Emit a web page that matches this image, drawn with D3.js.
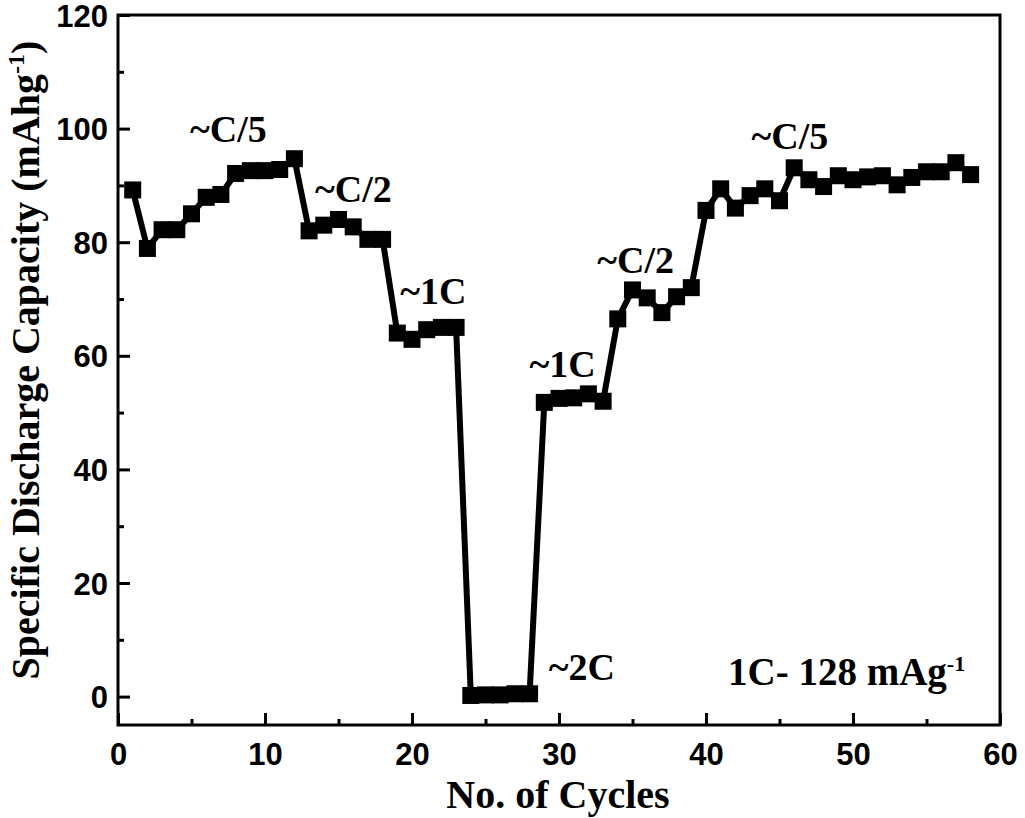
<!DOCTYPE html>
<html>
<head>
<meta charset="utf-8">
<script src="https://cdn.jsdelivr.net/npm/d3@7"></script>
<style>
  body { margin: 0; background: #fff; }
</style>
</head>
<body>
<div id="chart"></div>
<script>
// Données
const cycles = [1, 2, 3, 4, 5, 6, 7, 8, 9, 10, 11, 12, 13, 14, 15, 16, 17, 18, 19, 20,
  21, 22, 23, 24, 25, 26, 27, 28, 29, 30, 31, 32, 33, 34, 35, 36, 37, 38, 39, 40,
  41, 42, 43, 44, 45, 46, 47, 48, 49, 50, 51, 52, 53, 54, 55, 56, 57, 58];
const capacity = [89.2, 78.9, 82.2, 82.2, 85.0, 87.9, 88.4, 92.1, 92.6, 92.6, 92.8, 94.7,
  82.0, 83.0, 84.0, 82.7, 80.5, 80.5, 64.0, 62.9, 64.6, 65.0, 65.0,
  0.2, 0.3, 0.3, 0.5, 0.5,
  51.8, 52.5, 52.6, 53.3, 52.0,
  66.5, 71.6, 70.2, 67.6, 70.4, 72.0,
  85.6, 89.4, 86.0, 88.2, 89.4, 87.3, 93.1, 91.0, 89.8, 91.7, 91.0, 91.5, 91.7,
  90.1, 91.4, 92.4, 92.4, 94.0, 91.9];
const xTicks = [0, 5, 10, 15, 20, 25, 30, 35, 40, 45, 50, 55, 60];
const yTicks = [0, 10, 20, 30, 40, 50, 60, 70, 80, 90, 100, 110, 120];

// Annotations des régimes (position en cycle / capacité)
const rateLabels = ["~C/5", "~C/2", "~1C", "~2C", "~1C", "~C/2", "~C/5"];
const rateCycle = [4.9, 13.4, 19.2, 29.3, 28.0, 32.6, 43.1];
const rateCap = [97.7, 87.1, 69.1, 2.9, 56.2, 74.6, 96.4];

// Configuration du graphique
const W = 1025, H = 818;
const margin = { top: 15, right: 25, bottom: 93, left: 118 };
const width = W - margin.left - margin.right;
const height = H - margin.top - margin.bottom;

const svg = d3.select("#chart")
  .append("svg")
  .attr("width", W)
  .attr("height", H)
  .append("g")
  .attr("transform", `translate(${margin.left},${margin.top})`);

const x = d3.scaleLinear().domain([0, 60]).range([0, width]);
const y = d3.scaleLinear().domain([-5, 120]).range([height, 0]);

// Axes
const xAxis = svg.append("g")
  .attr("transform", `translate(0,${height})`)
  .call(d3.axisBottom(x).tickValues(xTicks).tickSize(-12)
    .tickFormat(d => d % 10 === 0 ? d : ""));

const yAxis = svg.append("g")
  .call(d3.axisLeft(y).tickValues(yTicks).tickSize(-12)
    .tickFormat(d => d % 20 === 0 ? d : ""));

[xAxis, yAxis].forEach(ax => {
  ax.select(".domain").remove();
  ax.selectAll(".tick line")
    .attr("stroke", "#000")
    .attr("stroke-width", 3);
  ax.selectAll(".tick text")
    .attr("fill", "#000")
    .style("font-family", "'Liberation Sans', Arial, sans-serif")
    .style("font-weight", "bold")
    .style("font-size", "31px");
});
xAxis.selectAll(".tick line").filter(d => d % 10 !== 0).attr("y2", -6);
yAxis.selectAll(".tick line").filter(d => d % 20 !== 0).attr("x2", 6);
xAxis.selectAll(".tick text").attr("y", 40).attr("dy", 0);
yAxis.selectAll(".tick text").attr("x", -10).attr("dy", "0.36em");

// Cadre
svg.append("rect")
  .attr("x", 0).attr("y", 0)
  .attr("width", width).attr("height", height)
  .attr("fill", "none")
  .attr("stroke", "#000")
  .attr("stroke-width", 3);

// Courbe et points
const line = d3.line()
  .x((d, i) => x(cycles[i]))
  .y(d => y(d));

svg.append("path")
  .datum(capacity)
  .attr("d", line)
  .attr("fill", "none")
  .attr("stroke", "#000")
  .attr("stroke-width", 6);

const sq = 17;
svg.selectAll(".pt")
  .data(capacity)
  .join("rect")
  .attr("class", "pt")
  .attr("x", (d, i) => x(cycles[i]) - sq / 2)
  .attr("y", d => y(d) - sq / 2)
  .attr("width", sq)
  .attr("height", sq)
  .attr("fill", "#000");

// Étiquettes de régime
svg.selectAll(".rate")
  .data(rateLabels)
  .join("text")
  .attr("class", "rate")
  .attr("x", (d, i) => x(rateCycle[i]))
  .attr("y", (d, i) => y(rateCap[i]))
  .style("font-family", "'Liberation Serif', 'Times New Roman', serif")
  .style("font-weight", "bold")
  .style("font-size", "38px")
  .text(d => d);

// Note 1C = 128 mA/g
const note = svg.append("text")
  .attr("x", x(41.5))
  .attr("y", y(2))
  .style("font-family", "'Liberation Serif', 'Times New Roman', serif")
  .style("font-weight", "bold")
  .style("font-size", "39px");
note.append("tspan").text("1C- 128 mAg");
note.append("tspan").attr("dy", -14).style("font-size", "22px").text("-1");

// Titres des axes
svg.append("text")
  .attr("x", width / 2 - 1)
  .attr("y", height + 83)
  .attr("text-anchor", "middle")
  .style("font-family", "'Liberation Serif', 'Times New Roman', serif")
  .style("font-weight", "bold")
  .style("font-size", "40px")
  .text("No. of Cycles");

const yTitle = svg.append("text")
  .attr("transform", `translate(${-79},${345}) rotate(-90)`)
  .attr("text-anchor", "middle")
  .style("font-family", "'Liberation Serif', 'Times New Roman', serif")
  .style("font-weight", "bold")
  .style("font-size", "40px");
yTitle.append("tspan").text("Specific Discharge Capacity (mAhg");
yTitle.append("tspan").attr("dy", -15).style("font-size", "24px").text("-1");
yTitle.append("tspan").attr("dy", 15).text(")");
</script>
</body>
</html>
